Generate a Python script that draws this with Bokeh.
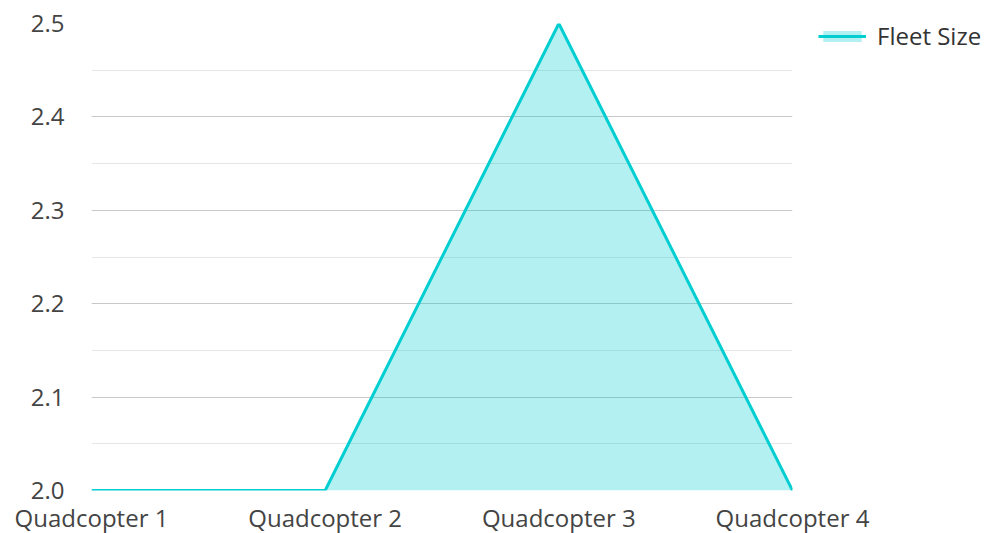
from bokeh.plotting import figure
from bokeh.models import ColumnDataSource, Range1d, FixedTicker, Legend, LegendItem, NumeralTickFormatter
from bokeh.embed import file_html
from bokeh.resources import INLINE

categories = ["Quadcopter 1", "Quadcopter 2", "Quadcopter 3", "Quadcopter 4"]
fleet_size = [2.0, 2.0, 2.5, 2.0]
y_ticks = [2.0, 2.1, 2.2, 2.3, 2.4, 2.5]
y_minor = [2.05, 2.15, 2.25, 2.35, 2.45]
series_name = "Fleet Size"

xs = list(range(len(categories)))
src = ColumnDataSource(dict(x=xs, y=fleet_size, base=[min(y_ticks)] * len(xs)))

FONT = "Open Sans"
FS = "24px"
p = figure(frame_width=701, frame_height=467, output_backend="svg", toolbar_location=None,
           x_range=Range1d(0, len(categories) - 1), y_range=Range1d(y_ticks[0], y_ticks[-1]),
           min_border_left=91, min_border_top=23, min_border_bottom=30, min_border_right=192)
p.outline_line_color = None

area = p.varea(x="x", y1="base", y2="y", source=src, fill_color="#00CED1", fill_alpha=0.3)
line = p.line(x="x", y="y", source=src, line_color="#00CED1", line_width=3)

p.xaxis.ticker = FixedTicker(ticks=xs)
p.xaxis.major_label_overrides = {i: c for i, c in enumerate(categories)}
p.yaxis.ticker = FixedTicker(ticks=y_ticks, minor_ticks=y_minor)
p.yaxis.formatter = NumeralTickFormatter(format="0.0")

for ax in (p.xaxis[0], p.yaxis[0]):
    ax.axis_line_color = None
    ax.major_tick_line_color = None
    ax.minor_tick_line_color = None
    ax.major_label_text_font = FONT
    ax.major_label_text_font_size = FS
    ax.major_label_text_color = "#444444"
p.xaxis.major_label_standoff = 4
p.yaxis.major_label_standoff = 21

p.xgrid.grid_line_color = None
p.ygrid.grid_line_color = "#c8c8c8"
p.ygrid.grid_line_width = 1
p.ygrid.minor_grid_line_color = "#e6e6e6"

legend = Legend(items=[LegendItem(label=series_name, renderers=[area, line])],
                location=(26, 438), orientation="vertical")
legend.border_line_color = None
legend.background_fill_alpha = 0
legend.label_text_font = FONT
legend.label_text_font_size = FS
legend.label_text_color = "#333333"
legend.glyph_width = 48
legend.glyph_height = 14
legend.label_standoff = 11
legend.margin = 0
legend.padding = 0
p.add_layout(legend, "right")

open("out.html", "w").write(file_html(p, INLINE))
